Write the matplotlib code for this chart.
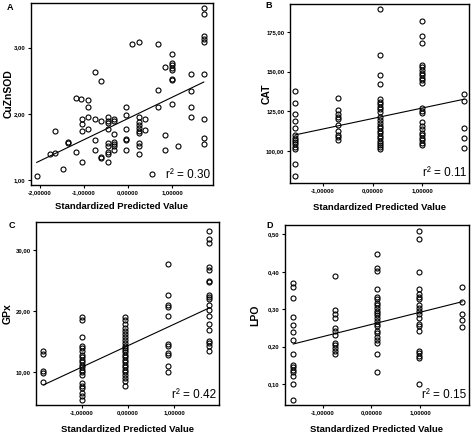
import numpy as np
import matplotlib
matplotlib.use('Agg')
import matplotlib.pyplot as plt

# --- 1. data ---

# A: Cu/ZnSOD
sod_x = [-2.07, -1.77, -1.65, -1.65, -1.47, -1.36, -1.36, -1.19, -1.19, -1.06, -1.05,
         -0.91, -0.91, -0.90, -1.05, -1.05, -1.05, -0.90, -0.75, -0.62, -0.75, -0.62,
         -0.75, -0.75, -0.62, -0.62, -0.45, -0.45, -0.45, -0.45, -0.32, -0.32, -0.32,
         -0.32, -0.32, -0.32, -0.32, -0.45, -0.45, -0.45, -0.45, -0.45, -0.04, -0.04,
         -0.04, -0.04, -0.04, -0.04, 0.09, 0.26, 0.26, 0.26, 0.26, 0.26, 0.26, 0.26,
         0.26, 0.26, 0.26, 0.39, 0.39, 0.54, 0.69, 0.69, 0.69, 0.84, 0.84, 0.84,
         0.99, 0.99, 0.99, 0.99, 0.99, 0.99, 0.99, 0.99, 1.14, 1.43, 1.43, 1.43, 1.43,
         1.72, 1.72, 1.72, 1.72, 1.72, 1.72, 1.72, 1.72, 1.72]
sod_y = [1.06, 1.39, 1.41, 1.75, 1.17, 1.56, 1.57, 2.24, 1.43, 2.23, 1.28,
         2.21, 2.10, 1.96, 1.92, 1.85, 1.74, 1.78, 2.63, 2.50, 1.93, 1.90,
         1.61, 1.45, 1.34, 1.35, 1.95, 1.90, 1.86, 1.78, 1.93, 1.90, 1.70,
         1.58, 1.55, 1.51, 1.45, 1.56, 1.51, 1.43, 1.39, 1.28, 2.11, 1.98,
         1.78, 1.63, 1.61, 1.46, 3.05, 3.08, 1.95, 1.88, 1.83, 1.79, 1.75, 1.71,
         1.56, 1.51, 1.39, 1.93, 1.76, 1.10, 3.05, 2.36, 2.11, 2.70, 1.68, 1.45,
         2.90, 2.76, 2.73, 2.69, 2.66, 2.53, 2.51, 2.15, 1.52, 2.60, 2.34, 2.11, 1.96,
         3.59, 3.51, 3.17, 3.13, 3.09, 2.60, 1.92, 1.64, 1.54]
sod_fit_x = [-2.07, 1.72]
sod_fit_y = [1.27, 2.48]

# B: CAT
cat_levels = [-1.57, -0.69, 0.15, 0.99, 1.85]
cat_groups = [
    [137.8, 130.0, 123.1, 119.1, 114.7, 110.1, 108.4, 106.9, 105.5, 104.2, 102.7, 101.3, 91.8, 84.0],
    [133.6, 125.8, 123.3, 121.6, 120.2, 116.4, 112.6, 110.1, 108.6, 106.9],
    [189.3, 160.5, 147.9, 142.2, 132.6, 131.1, 129.4, 127.9, 126.3, 124.8, 121.2, 119.5,
     117.9, 116.0, 114.3, 112.6, 111.1, 109.5, 108.0, 106.5, 105.3, 103.8, 102.7, 101.3],
    [182.1, 172.5, 167.8, 154.2, 152.6, 151.1, 149.4, 147.9, 146.2, 144.7, 143.1, 126.9,
     125.2, 123.7, 118.5, 115.8, 113.7, 111.6, 110.1, 108.4, 106.9, 105.3, 103.8],
    [135.9, 131.5, 114.3, 108.0, 101.7],
]
cat_fit_x = [-1.57, 1.85]
cat_fit_y = [110.1, 132.6]

# C: GPx
gpx_levels = [-1.84, -0.99, -0.06, 0.86, 1.76]
gpx_groups = [
    [13.5, 13.0, 10.2, 9.8, 8.4],
    [19.04, 18.6, 15.75, 14.33, 13.95, 13.5, 12.85, 12.41, 12.03, 11.59, 11.2, 10.8, 10.4,
     9.95, 9.56, 8.2, 7.75, 7.37, 6.55, 6.0, 5.45],
    [18.99, 18.6, 17.89, 17.23, 16.68, 16.25, 15.75, 15.21, 14.77, 14.33, 13.95, 13.56,
     13.23, 12.85, 12.47, 12.03, 11.59, 11.2, 10.82, 10.38, 9.95, 9.56, 9.01, 8.58, 7.64],
    [27.64, 22.71, 20.96, 20.63, 19.26, 14.6, 14.22, 13.12, 12.85, 10.93, 10.0],
    [33.1, 31.75, 31.2, 27.2, 26.8, 24.9, 24.7, 22.7, 22.3, 21.9, 21.0, 20.25, 19.15,
     17.9, 16.96, 15.15, 14.77, 14.2, 13.5],
]
gpx_fit_x = [-1.82, 1.76]
gpx_fit_y = [7.92, 20.52]

# D: LPO
lpo_levels = [-1.60, -0.74, 0.12, 0.97, 1.86]
lpo_groups = [
    [0.371, 0.360, 0.329, 0.279, 0.259, 0.239, 0.219, 0.179, 0.152, 0.146, 0.138, 0.132,
     0.121, 0.100, 0.058],
    [0.390, 0.299, 0.286, 0.277, 0.250, 0.243, 0.232, 0.210, 0.204, 0.196, 0.188, 0.180],
    [0.448, 0.410, 0.401, 0.353, 0.333, 0.326, 0.317, 0.311, 0.304, 0.296, 0.290, 0.284,
     0.277, 0.268, 0.261, 0.255, 0.243, 0.237, 0.225, 0.219, 0.210, 0.180, 0.132],
    [0.509, 0.488, 0.400, 0.353, 0.341, 0.333, 0.326, 0.311, 0.304, 0.296, 0.288, 0.277,
     0.261, 0.255, 0.243, 0.189, 0.183, 0.176, 0.170, 0.100],
    [0.359, 0.320, 0.288, 0.272, 0.252],
]
lpo_fit_x = [-1.60, 1.86]
lpo_fit_y = [0.207, 0.320]

r2_labels = ['0.30', '0.11', '0.42', '0.15']

# --- 2. helpers ---

plt.rcParams['font.family'] = ['Liberation Sans', 'DejaVu Sans']


def flatten(levels, groups):
    xs, ys = [], []
    for lv, g in zip(levels, groups):
        xs += [lv] * len(g)
        ys += g
    return xs, ys


def comma(v, dec):
    return f'{v:.{dec}f}'.replace('.', ',')


def draw_panel(ax, x, y, fit_x, fit_y, xlim, ylim, xticks, yticks, ylabel, r2,
               ylab_x, xlab_y):
    ax.plot(x, y, 'o', mfc='none', mec='black', ms=3.6, mew=0.8, zorder=3)
    ax.plot(fit_x, fit_y, color='black', lw=0.8, zorder=2)
    ax.set_xlim(xlim)
    ax.set_ylim(ylim)
    ax.set_xticks(xticks)
    ax.set_xticklabels([comma(t, 5) for t in xticks], fontsize=4.2, fontweight='bold')
    ax.set_yticks(yticks)
    ax.set_yticklabels([comma(t, 2) for t in yticks], fontsize=4.2, fontweight='bold')
    ax.tick_params(length=2.5, width=0.8, pad=1.5)
    for s in ax.spines.values():
        s.set_linewidth(1.0)
    ax.set_xlabel('Standardized Predicted Value', fontsize=6.8, fontweight='bold')
    ax.xaxis.set_label_coords(0.5, xlab_y)
    ax.set_ylabel(ylabel, fontsize=7.5, fontweight='bold')
    ax.yaxis.set_label_coords(ylab_x, 0.5)
    ax.text(0.985, 0.02, f'r² = {r2}', transform=ax.transAxes, ha='right', va='bottom',
            fontsize=8.5)


# --- 3. figure ---

fig = plt.figure(figsize=(4.74, 4.37), dpi=100)
axA = fig.add_axes([31 / 474, 1 - 185 / 437, 182 / 474, 182 / 437])
axB = fig.add_axes([290 / 474, 1 - 183 / 437, 179 / 474, 179 / 437])
axC = fig.add_axes([36 / 474, 1 - 405 / 437, 183 / 474, 183 / 437])
axD = fig.add_axes([285 / 474, 1 - 405 / 437, 184 / 474, 180 / 437])

draw_panel(axA, sod_x, sod_y, sod_fit_x, sod_fit_y, (-2.2, 1.93), (0.93, 3.67),
           [-2, -1, 0, 1], [1, 2, 3], 'CuZnSOD', r2_labels[0], -0.093, -0.095)

bx, by = flatten(cat_levels, cat_groups)
draw_panel(axB, bx, by, cat_fit_x, cat_fit_y, (-1.67, 1.95), (79.8, 192.6),
           [-1, 0, 1], [100, 125, 150, 175], 'CAT', r2_labels[1], -0.1, -0.11)

cx, cy = flatten(gpx_levels, gpx_groups)
draw_panel(axC, cx, cy, gpx_fit_x, gpx_fit_y, (-1.99, 1.97), (4.6, 34.6),
           [-1, 0, 1], [10, 20, 30], 'GPx', r2_labels[2], -0.13, -0.11)

dx, dy = flatten(lpo_levels, lpo_groups)
draw_panel(axD, dx, dy, lpo_fit_x, lpo_fit_y, (-1.77, 2.0), (0.044, 0.525),
           [-1, 0, 1], [0.1, 0.2, 0.3, 0.4, 0.5], 'LPO', r2_labels[3], -0.136, -0.11)

# panel letters
for letter, px, py in [('A', 10, 8), ('B', 269, 6), ('C', 12, 225), ('D', 270, 225)]:
    fig.text(px / 474, 1 - py / 437, letter, ha='center', va='center',
             fontsize=6.5, fontweight='bold')

fig.savefig('out.png', dpi=100)
